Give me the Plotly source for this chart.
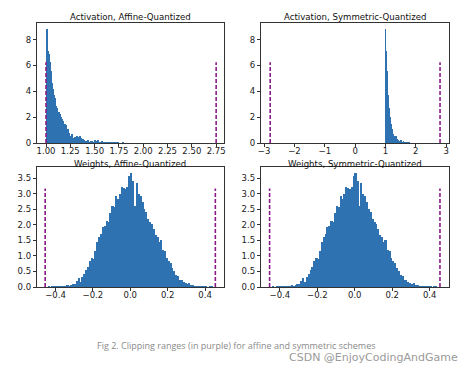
import numpy as np
import plotly.graph_objects as go

# ---------------- data ----------------
act_bin_start = 1.0
act_bin_width = 0.011
act_density = [8.85, 7.1, 6.9, 6.3, 5.6, 4.7, 4.2, 3.7, 3.5, 2.9, 2.7, 2.4, 2.3, 2.05,
               1.9, 1.7, 1.4, 1.5, 1.45, 1.0, 1.1, 0.77, 0.6, 0.45, 0.7, 0.4, 0.5, 0.4,
               0.6, 0.5, 0.45, 0.55, 0.4, 0.25, 0.33, 0.25, 0.18, 0.2, 0.15, 0.22, 0.1,
               0.15, 0.2, 0.1, 0.12, 0.28, 0.15, 0.1, 0.25, 0.1, 0.05, 0.1, 0.15, 0.12,
               0.1, 0.05, 0.08, 0.1, 0.05, 0.03, 0.08, 0.05, 0.1, 0.03, 0.0, 0.05, 0.0,
               0.03, 0.0, 0.02, 0.0, 0.03, 0.0, 0.0, 0.02]

w_bin_start = -0.44
w_bin_width = 0.01
w_density = [0.02, 0.0, 0.03, 0.02, 0.04, 0.03, 0.04, 0.03, 0.05, 0.03, 0.06, 0.05,
             0.08, 0.1, 0.12, 0.19, 0.3, 0.17, 0.33, 0.42, 0.55, 0.66, 0.86, 0.95,
             0.91, 1.18, 1.46, 1.62, 1.73, 1.94, 1.98, 2.14, 2.1, 2.4, 2.62, 2.57,
             2.95, 2.84, 3.0, 3.22, 3.18, 3.15, 3.22, 3.58, 3.67, 3.43, 2.63, 3.35,
             3.0, 2.95, 2.74, 2.52, 2.42, 2.2, 2.1, 2.05, 1.89, 1.68, 1.62, 1.46,
             1.51, 1.2, 1.17, 0.93, 0.85, 0.77, 0.62, 0.51, 0.4, 0.35, 0.24, 0.24,
             0.17, 0.14, 0.1, 0.14, 0.06, 0.07, 0.04, 0.05, 0.03, 0.04, 0.02, 0.03,
             0.02, 0.0, 0.02, 0.01]

titles = ["Activation, Affine-Quantized", "Activation, Symmetric-Quantized",
          "Weights, Affine-Quantized", "Weights, Symmetric-Quantized"]

clip_act_affine = [1.0, 2.75]
clip_act_sym = [-2.8, 2.8]
clip_w_affine = [-0.455, 0.455]
clip_w_sym = [-0.455, 0.455]
clip_height_act = 6.25
clip_height_w = 3.17

caption = "Fig 2. Clipping ranges (in purple) for affine and symmetric schemes"
watermark = "CSDN @EnjoyCodingAndGame"

# ---------------- figure ----------------
PAGE_W, PAGE_H = 474, 372
OFF = 8  # default body margin of the html page
W, H = PAGE_W - 2 * OFF, PAGE_H - 2 * OFF
BAR = "#2f72b2"
PURPLE = "#8a1a8a"

act_x = [act_bin_start + act_bin_width * (i + 0.5) for i in range(len(act_density))]
w_x = [w_bin_start + w_bin_width * (i + 0.5) for i in range(len(w_density))]

fig = go.Figure()

panels = [
    (act_x, act_density, act_bin_width, clip_act_affine, clip_height_act, "x", "y"),
    (act_x, act_density, act_bin_width, clip_act_sym, clip_height_act, "x2", "y2"),
    (w_x, w_density, w_bin_width, clip_w_affine, clip_height_w, "x3", "y3"),
    (w_x, w_density, w_bin_width, clip_w_sym, clip_height_w, "x4", "y4"),
]

for xs, ys, bw, clips, ch, xa, ya in panels:
    fig.add_trace(go.Bar(x=xs, y=ys, width=bw, marker=dict(color=BAR, line=dict(width=0)),
                         xaxis=xa, yaxis=ya, showlegend=False, hoverinfo="skip"))
    for c in clips:
        fig.add_trace(go.Scatter(x=[c, c], y=[0, ch], mode="lines",
                                 line=dict(color=PURPLE, width=1.6, dash="4px,2px"),
                                 xaxis=xa, yaxis=ya, showlegend=False, hoverinfo="skip"))

def px_x(a, b):
    return [(a - OFF) / W, (b - OFF) / W]

def px_y(top, bottom):
    return [1 - (bottom - OFF) / H, 1 - (top - OFF) / H]

def pt(x, y):
    return (x - OFF) / W, 1 - (y - OFF) / H

dom_x = [px_x(34, 223), px_x(260, 450), px_x(34, 223), px_x(260, 450)]
dom_y = [px_y(23, 145), px_y(23, 145), px_y(169, 291), px_y(169, 291)]

axis_common = dict(showline=True, mirror=True, linecolor="#333", linewidth=1,
                   ticks="outside", ticklen=3, tickwidth=1, tickcolor="#333",
                   showgrid=False, zeroline=False,
                   tickfont=dict(family="DejaVu Sans", size=8.5, color="#1a1a1a"))

xranges = [[0.905, 2.832], [-3.11, 3.1], [-0.5, 0.502], [-0.502, 0.504]]
yranges = [[0, 9.3], [0, 9.3], [0, 3.87], [0, 3.87]]
xticks = [dict(tickvals=[1.0, 1.25, 1.5, 1.75, 2.0, 2.25, 2.5, 2.75], tickformat=".2f"),
          dict(tickvals=[-3, -2, -1, 0, 1, 2, 3], tickformat="d"),
          dict(tickvals=[-0.4, -0.2, 0.0, 0.2, 0.4], tickformat=".1f"),
          dict(tickvals=[-0.4, -0.2, 0.0, 0.2, 0.4], tickformat=".1f")]
yticks = [dict(tickvals=[0, 2, 4, 6, 8], tickformat="d"),
          dict(tickvals=[0, 2, 4, 6, 8], tickformat="d"),
          dict(tickvals=[0, 0.5, 1, 1.5, 2, 2.5, 3, 3.5], tickformat=".1f"),
          dict(tickvals=[0, 0.5, 1, 1.5, 2, 2.5, 3, 3.5], tickformat=".1f")]

layout = dict(width=W, height=H, margin=dict(l=0, r=0, t=0, b=0),
              paper_bgcolor="white", plot_bgcolor="white", bargap=0,
              showlegend=False)
for i in range(4):
    sx = "" if i == 0 else str(i + 1)
    layout["xaxis" + sx] = dict(domain=dom_x[i], range=xranges[i],
                                anchor="y" + sx, ticklabelstandoff=-3,
                                **xticks[i], **axis_common)
    layout["yaxis" + sx] = dict(domain=dom_y[i], range=yranges[i],
                                anchor="x" + sx, **yticks[i], **axis_common)
fig.update_layout(**layout)

title_centers_y = [17, 17, 166, 166]
anns = []
for i, t in enumerate(titles):
    cx = (dom_x[i][0] + dom_x[i][1]) / 2
    _, cy = pt(0, title_centers_y[i])
    anns.append(dict(text=t, x=cx, y=cy, xref="paper", yref="paper",
                     xanchor="center", yanchor="middle", showarrow=False,
                     font=dict(family="DejaVu Sans", size=8.6, color="#111")))
cx, cy = pt(93, 350.5)
anns.append(dict(text=caption, x=cx, y=cy, xref="paper", yref="paper",
                 xanchor="left", yanchor="middle", showarrow=False,
                 font=dict(family="Open Sans", size=9, color="#8a8a8a")))
cx, cy = pt(461, 362)
anns.append(dict(text=watermark, x=cx, y=cy, xref="paper", yref="paper",
                 xanchor="right", yanchor="middle", showarrow=False,
                 font=dict(family="DejaVu Sans", size=11, color="#9a9a9a")))
fig.update_layout(annotations=anns)

fig.write_html("out.html")
